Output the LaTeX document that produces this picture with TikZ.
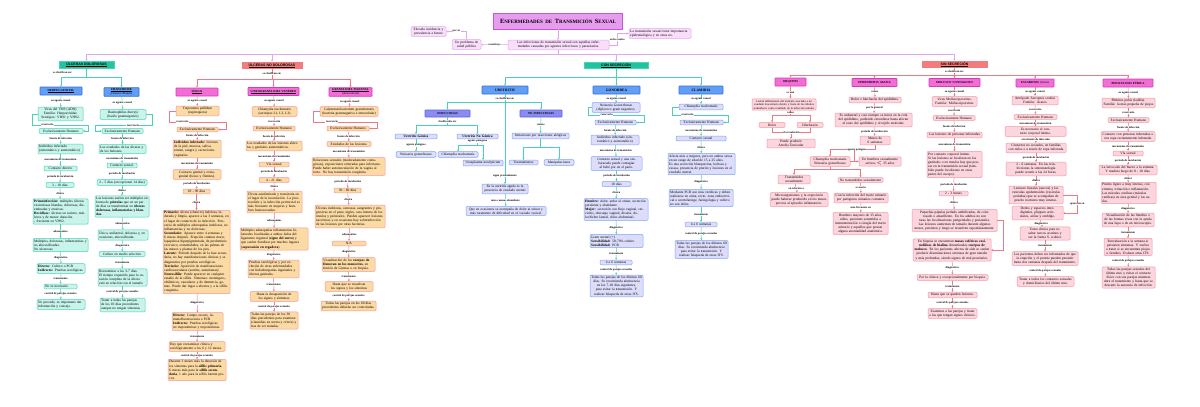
\documentclass[tikz,border=0pt]{standalone}
\usepackage{amsmath,amssymb}
\usepackage{fontspec}
\setmainfont{Liberation Serif}
\newfontfamily\catsans{Liberation Sans}
\usepackage{xcolor}
\usepackage{tikz}
\usetikzlibrary{positioning,arrows.meta,calc}
\definecolor{tealhead}{RGB}{32,196,160}
\definecolor{tealfill}{RGB}{200,244,235}
\definecolor{tealline}{RGB}{72,210,182}
\definecolor{bluehead}{RGB}{98,158,245}
\definecolor{bluedraw}{RGB}{52,112,225}
\definecolor{violethead}{RGB}{138,140,242}
\definecolor{violetdraw}{RGB}{92,98,228}
\definecolor{lavfill}{RGB}{221,221,251}
\definecolor{lavdraw}{RGB}{122,166,244}
\definecolor{peachfill}{RGB}{252,218,164}
\definecolor{pinkfill}{RGB}{253,213,222}
\definecolor{pinkline}{RGB}{244,150,160}
\definecolor{redline}{RGB}{242,120,130}
\definecolor{salmonhead}{RGB}{243,125,125}
\definecolor{maghead}{RGB}{242,110,214}
\definecolor{magdraw}{RGB}{212,60,180}
\definecolor{titlefill}{RGB}{232,156,240}
\definecolor{titledraw}{RGB}{190,90,210}
\definecolor{topfill}{RGB}{249,222,249}
\definecolor{topdraw}{RGB}{226,165,240}
\newcommand{\boxfont}{\fontsize{3.5}{4.1}\selectfont}
\newcommand{\tinyfont}{\fontsize{2.9}{3.5}\selectfont}
\newcommand{\lblfont}{\fontsize{2.8}{3.2}\selectfont\bfseries}
\newcommand{\headfont}{\fontsize{3}{3.6}\selectfont\bfseries}
\newcommand{\bigheadfont}{\fontsize{3.6}{4.2}\selectfont\bfseries}
\newcommand{\catfont}{\catsans\fontsize{3.5}{4.2}\selectfont\bfseries}
\newcommand{\smc}[2]{{\fontsize{6.4}{7}\selectfont #1}{\fontsize{5}{6}\selectfont #2}}
\tikzset{
  box/.style   = {draw, rounded corners=1pt, align=center, inner sep=1.2pt, line width=0.5pt, font=\boxfont},
  bw/.style    = {/utils/exec={\pgfmathsetmacro\bwval{#1-2.4}}, text width=\bwval pt},
  tbox/.style  = {box, fill=tealfill, draw=tealline},
  bbox/.style  = {box, fill=lavfill, draw=lavdraw},
  pbox/.style  = {box, fill=peachfill, draw=pinkline},
  rbox/.style  = {box, fill=pinkfill, draw=pinkline},
  mbox/.style  = {box, fill=topfill, draw=topdraw},
  titlebox/.style = {draw=titledraw, fill=titlefill, line width=0.8pt, minimum width=129pt, minimum height=16pt, inner sep=1pt},
  cat/.style   = {draw, align=center, inner sep=1pt, line width=0.4pt, font=\catfont, minimum height=6.5pt},
  head/.style  = {draw, rounded corners=0.6pt, align=center, inner sep=1.2pt, line width=0.8pt, font=\headfont, minimum height=8pt},
  bhead/.style = {head, fill=bluehead, draw=bluedraw},
  vhead/.style = {head, fill=violethead, draw=violetdraw, minimum height=7pt},
  mhead/.style = {head, fill=maghead, draw=magdraw},
  lbl/.style   = {fill=white, inner sep=0.4pt, font=\lblfont},
  tline/.style = {line width=0.5pt, draw=tealline},
  tflow/.style = {tline, -{Stealth[length=2pt, width=2pt]}},
  pline/.style = {line width=0.5pt, draw=redline},
  pflow/.style = {pline, -{Stealth[length=2pt, width=2pt]}},
  mline/.style = {line width=0.5pt, draw=topdraw},
  mflow/.style = {mline, -{Stealth[length=2pt, width=2pt]}},
}
\begin{document}
\begin{tikzpicture}[x=1pt, y=-1pt]
  \path[use as bounding box, fill=white] (0,0) rectangle (1200,407);

  % cabecera
  \node[titlebox] (titulo) at (558,21) {\bfseries\smc{E}{NFERMEDADES} \smc{}{DE} \smc{T}{RANSMICIÓN} \smc{S}{EXUAL}};
  \node[mbox, bw=35] (elevada) at (428.5,31.5) {Elevada incidencia y prevalencia a futuro};
  \node[mbox, bw=29] (problema) at (466.5,44.5) {Un problema de salud pública};
  \node[mbox, bw=101] (its) at (558.5,45) {Las infecciones de transmisión sexual son aquellas enfermedades causadas por agentes infecciosos y parasitarios.};
  \node[mbox, bw=62, align=left] (importancia) at (660,33.5) {La transmisión sexual tiene importancia epidemiológica y en otras no.};
  \draw[mflow] (titulo) -- (titulo |- its.north);
  \draw[mflow] (its) -- node[lbl]{constituye} (problema);
  \draw[mflow] (problema.north) |- node[lbl, pos=.75]{por su} (elevada.east);
  \draw[mflow] (its.east) -- ++(8,0) |- node[lbl, pos=.25]{en las cuales} (importancia.west);

  \node[cat, fill=tealhead, draw=tealline, minimum width=55pt] (ud) at (86.5,64.5) {\underline{ÚLCERAS DOLOROSAS}};
  \node[cat, fill=salmonhead, draw=redline, minimum width=60pt] (und) at (272,65) {\underline{ÚLCERAS NO DOLOROSAS}};
  \node[cat, fill=tealhead, draw=tealline, minimum width=64pt] (cs) at (616,65) {\underline{CON SECRECIÓN}};
  \node[cat, fill=salmonhead, draw=redline, minimum width=65pt] (ss) at (954.5,64) {\underline{SIN SECRECIÓN}};
  \draw[mline] (its.south) -- ++(0,4) coordinate (reparto);
  \draw[mline] (ud |- reparto) -- (ss |- reparto);
  \foreach \c in {ud,und,cs,ss}
    \draw[mflow] (\c |- reparto) -- (\c);

  % ulceras dolorosas
  \node[bhead, bw=42] (hg) at (61,91) {\underline{HERPES GENITAL}};
  \node[bhead, bw=35] (ch) at (121.5,92) {\underline{CHANCROIDE}\\{\mdseries(Chancro Blando)}};
  \draw[tline] (ud.south) -- node[lbl, left=14pt]{se clasifican en:} ++(0,9) coordinate (ud-r);
  \draw[tline] (hg |- ud-r) -- (ch |- ud-r);
  \draw[tflow] (hg |- ud-r) -- (hg);
  \draw[tflow] (ch |- ud-r) -- (ch);

  \node[tbox, bw=45] (hg-agente) at (60.5,114) {Virus del VHS (ADN)\\Familia: Herpesviridae\\Serotipos: VHS1 y VHS2.};
  \node[tbox, bw=44] (hg-reserv) at (61,131) {Exclusivamente Humano};
  \node[tbox, bw=45, align=left] (hg-fuente) at (60.5,149) {Individuo infectado\\(sintomático y asintomático)};
  \node[tbox, bw=33] (hg-mec) at (60.5,168.5) {Contacto directo};
  \node[tbox, bw=28] (hg-incub) at (60,185) {3 - 10 días};
  \node[tbox, bw=55, align=left] (hg-clin) at (60.5,211.5) {\textbf{Primoinfección:} múltiples úlceras vesiculosas blandas, dolorosas, diseminadas y erosivas.\\\textbf{Recidivas:} úlceras en racimo, más leves y de menor duración.\\- frecuente en VHS2.};
  \node[tbox, bw=55, align=left] (hg-adeno) at (60.5,245) {Múltiples, dolorosas, inflamatorias y no abscesificadas.\\No ulcerosas};
  \node[tbox, bw=48, align=left] (hg-diag) at (61,268.5) {\textbf{Directo:} Cultivo o PCR\\\textbf{Indirecto:} Pruebas serológicas};
  \node[tbox, bw=33, align=left] (hg-trat) at (60.5,286.5) {No es necesario};
  \node[tbox, bw=48, align=left] (hg-control) at (61,304.5) {No procede, es importante dar información y consejo.};
  \draw[tflow] (hg) -- node[lbl]{su agente causal} (hg-agente);
  \draw[tflow] (hg-agente.west) -- ++(-6,0) |- node[lbl, pos=.64]{reservorio} ++(56,11) |- (hg-reserv.east);
  \draw[tflow] (hg-reserv) -- node[lbl]{fuente de infección} (hg-fuente);
  \draw[tflow] (hg-fuente) -- node[lbl]{mecanismo de transmisión} (hg-mec);
  \draw[tflow] (hg-mec) -- node[lbl]{periodo de incubación} (hg-incub);
  \draw[tflow] (hg-incub) -- node[lbl]{clínica} (hg-clin);
  \draw[tflow] (hg-clin) -- node[lbl]{adenopatías} (hg-adeno);
  \draw[tflow] (hg-adeno) -- node[lbl]{diagnóstico} (hg-diag);
  \draw[tflow] (hg-diag) -- node[lbl]{tratamiento} (hg-trat);
  \draw[tflow] (hg-trat) -- node[lbl]{control de parejas sexuales} (hg-control);

  \node[tbox, bw=46] (ch-agente) at (123,114.5) {Haemophilus ducreyi\\(bacilo gramnegativo)};
  \node[tbox, bw=41] (ch-reserv) at (122.5,131) {Exclusivamente Humano};
  \node[tbox, bw=47, align=left] (ch-fuente) at (122.5,149) {Los exudados de las úlceras y de los bubones.};
  \node[tbox, bw=30] (ch-mec) at (122,165.5) {Contacto sexual.};
  \node[tbox, bw=50] (ch-incub) at (122,182.5) {2 - 5 días (excepcional 14 días)};
  \node[tbox, bw=54, align=left] (ch-clin) at (122,206.5) {Las lesiones suelen ser múltiples en forma de \textbf{pústulas} que en un par de días se transforman en \textbf{úlceras dolorosas, inflamatorias y blandas.}};
  \node[tbox, bw=50, align=left] (ch-adeno) at (123,235) {Única, unilateral, dolorosa y, en ocasiones, abscesificada.};
  \node[tbox, bw=46] (ch-diag) at (122,254) {Cultivo en medio selectivo};
  \node[tbox, bw=49, align=left] (ch-trat) at (122.5,277.5) {Reexaminar a los 3-7 días.\\El tiempo requerido para la curación completa de la úlcera está en relación con el tamaño};
  \node[tbox, bw=45, align=left] (ch-control) at (122.5,305) {Tratar a todas las parejas de los 10 días precedentes aunque no tengan síntomas};
  \draw[tflow] (ch) -- node[lbl]{su agente causal} (ch-agente);
  \draw[tflow] (ch-agente.east) -- ++(6,0) |- node[lbl, pos=.67]{reservorio} ++(-57,11) |- (ch-reserv.west);
  \draw[tflow] (ch-reserv) -- node[lbl]{fuente de infección} (ch-fuente);
  \draw[tflow] (ch-fuente) -- node[lbl]{mecanismo de transmisión} (ch-mec);
  \draw[tflow] (ch-mec) -- node[lbl]{periodo de incubación} (ch-incub);
  \draw[tflow] (ch-incub) -- node[lbl]{clínica} (ch-clin);
  \draw[tflow] (ch-clin) -- node[lbl]{adenopatías} (ch-adeno);
  \draw[tflow] (ch-adeno) -- node[lbl]{diagnóstico} (ch-diag);
  \draw[tflow] (ch-diag) -- node[lbl]{tratamiento} (ch-trat);
  \draw[tflow] (ch-trat) -- node[lbl]{control de parejas sexuales} (ch-control);

  % ulceras no dolorosas
  \node[mhead, bw=42] (sif) at (197,92) {\underline{SÍFILIS}};
  \node[mhead, bw=51] (lgv) at (273.5,91.5) {\underline{LINFOGRANULOMA VENÉREO}};
  \node[mhead, bw=43] (gi) at (350.5,92) {\underline{GRANULOMA INGUINAL}\\{\mdseries(donovanosis)}};
  \draw[pline] (und.south) -- node[lbl]{se clasifican en:} ++(0,11) coordinate (und-r);
  \draw[pline] (sif |- und-r) -- (gi |- und-r);
  \foreach \c in {sif,lgv,gi}
    \draw[pflow] (\c |- und-r) -- (\c);

  \node[pbox, bw=43] (sif-agente) at (197.5,111) {Treponema pallidum\\(espiroqueta)};
  \node[pbox, bw=41] (sif-reserv) at (197.5,129.5) {Exclusivamente Humano};
  \node[pbox, bw=48, align=left] (sif-fuente) at (197,149) {\textbf{Individuo infectado:} lesiones de la piel, mucosa, saliva, semen, sangre y secreciones vaginales.};
  \node[pbox, bw=48] (sif-mec) at (197,174.5) {Contacto genital y extragenital (besos y fómites).};
  \node[pbox, bw=27] (sif-incub) at (196.5,191.5) {10 - 90 días};
  \node[pbox, bw=67, align=left] (sif-clin) at (196.5,252) {\textbf{Primario:} úlcera (chancro) indolora, indurada y limpia, aparece a las 3 semanas, en el lugar de contacto de la infección. Presencia de múltiples adenopatías indoloras, no inflamatorias y no dolorosas.\\\textbf{Secundario:} Aparece entre 4 semanas y 6 meses después. Erupción cutánea maculopapulosa hiperpigmentada, de predominio en tronco, extremidades, en las palmas de las manos y plantas de los pies.\\\textbf{Latente:} Periodo después de la fase secundaria, no hay manifestaciones clínicas y se diagnostica por pruebas serológicas.\\\textbf{Terciario:} Aparición de manifestaciones cardiovasculares (aortitis, aneurismas).\\\textbf{Neurosífilis:} Puede aparecer en cualquier estadio de la sífilis. Síntomas: meníngeos, oftálmicos, vasculares y de demencia, gomas. Puede dar lugar a abortos y a la sífilis congénita.};
  \node[pbox, bw=51, align=left] (sif-diag) at (197.5,321.5) {\textbf{Directo:} Campo oscuro, inmunofluorescencia o PCR\\\textbf{Indirecto:} Pruebas serológicas no treponémicas y treponémicas.};
  \node[pbox, bw=56, align=left] (sif-trat) at (197,346.5) {Hay que reexaminar clínica y serológicamente a los 6 y 12 meses.};
  \node[pbox, bw=58, align=left] (sif-control) at (197,370) {Durante 3 meses más la duración de los síntomas para la \textbf{sífilis primaria}, 6 meses más para la \textbf{sífilis secundaria}, 1 año para la sífilis latente precoz.};
  \draw[pflow] (sif) -- node[lbl]{su agente causal} (sif-agente);
  \draw[pflow] (sif-agente.west) -- ++(-7,0) |- node[lbl, pos=.62]{reservorio} ++(57,11) |- (sif-reserv.east);
  \draw[pflow] (sif-reserv) -- node[lbl]{fuente de infección} (sif-fuente);
  \draw[pflow] (sif-fuente) -- node[lbl]{mecanismo de transmisión} (sif-mec);
  \draw[pflow] (sif-mec) -- node[lbl]{periodo de incubación} (sif-incub);
  \draw[pflow] (sif-incub) -- node[lbl]{clínica} (sif-clin);
  \draw[pflow] (sif-clin) -- node[lbl]{diagnóstico} (sif-diag);
  \draw[pflow] (sif-diag) -- node[lbl]{tratamiento} (sif-trat);
  \draw[pflow] (sif-trat) -- node[lbl]{control de parejas sexuales} (sif-control);

  \node[pbox, bw=45] (lgv-agente) at (274.5,111.5) {Chlamydia trachomatis\\(serotipos L1, L2, L3)};
  \node[pbox, bw=42] (lgv-reserv) at (274,128.5) {Exclusivamente Humano};
  \node[pbox, bw=56, align=left] (lgv-fuente) at (274,146) {Los exudados de las lesiones abiertas y genitales asintomáticos.};
  \node[pbox, bw=30] (lgv-mec) at (274,164.5) {Vía sexual};
  \node[pbox, bw=30] (lgv-incub) at (274,180) {4 - 21 días};
  \node[pbox, bw=55, align=left] (lgv-clin) at (274.5,202) {Úlcera autolimitada y transitoria en el lugar de la inoculación. La proctocolitis y la infección perirrectal es más frecuente en mujeres y hombres homosexuales.};
  \node[pbox, bw=68, align=left] (lgv-adeno) at (274,239) {Múltiples adenopatías inflamatorias bilaterales localizadas a ambos lados del ligamento inguinal (\textbf{signo del surco}) y que suelen fistulizar por muchos lugares (\textbf{supuración en regadera}).};
  \node[pbox, bw=51, align=left] (lgv-diag) at (273.5,269) {Pruebas serológicas y por exclusión de otras enfermedades con linfadenopatías inguinales y úlceras genitales.};
  \node[pbox, bw=48] (lgv-trat) at (274,296.5) {Hasta la desaparición de los signos y síntomas};
  \node[pbox, bw=48, align=left] (lgv-control) at (274,320.5) {Todas las parejas de los 30 días precedentes para examinar (clamidias en uretra y cérvix) y tras de ser tratadas.};
  \draw[pflow] (lgv) -- node[lbl]{su agente causal} (lgv-agente);
  \draw[pflow] (lgv-agente) -- node[lbl]{reservorio} (lgv-reserv);
  \draw[pflow] (lgv-reserv) -- node[lbl]{fuente de infección} (lgv-fuente);
  \draw[pflow] (lgv-fuente) -- node[lbl]{mecanismo de transmisión} (lgv-mec);
  \draw[pflow] (lgv-mec) -- node[lbl]{periodo de incubación} (lgv-incub);
  \draw[pflow] (lgv-incub) -- node[lbl]{clínica} (lgv-clin);
  \draw[pflow] (lgv-clin) -- node[lbl]{adenopatías} (lgv-adeno);
  \draw[pflow] (lgv-adeno) -- node[lbl]{diagnóstico} (lgv-diag);
  \draw[pflow] (lgv-diag) -- node[lbl]{tratamiento} (lgv-trat);
  \draw[pflow] (lgv-trat) -- node[lbl]{control de parejas sexuales} (lgv-control);

  \node[pbox, bw=58] (gi-agente) at (349,111.5) {Calymmatobacterium granulomatis\\(bacteria gramnegativa e intracelular)};
  \node[pbox, bw=42] (gi-reserv) at (348,128.5) {Exclusivamente Humano};
  \node[pbox, bw=44] (gi-fuente) at (349,144) {Exudados de las lesiones.};
  \node[pbox, bw=73, align=left] (gi-mec) at (348.5,166.5) {Relaciones sexuales (moderadamente contagiosas), exposiciones reiteradas para infectarse. Puede haber autoinoculación de la vagina al recto. No hay transmisión congénita.};
  \node[pbox, bw=27] (gi-incub) at (347.5,190.5) {30 - 60 días};
  \node[pbox, bw=70, align=left] (gi-clin) at (350,216.5) {Úlceras indoloras, carnosas, sangrantes y progresivas en el pene, ingles, cara interna de los muslos y perineales. Pueden aparecer lesiones necróticas y en ocasiones hay sobreinfección de las lesiones por otras bacterias.};
  \node[pbox, bw=34] (gi-adeno) at (349,243.5) {N/A};
  \node[pbox, bw=53, align=left] (gi-diag) at (348.5,264.5) {Visualización de los \textbf{cuerpos de Donovan en los monocitos}, en tinción de Giemsa o en biopsia.};
  \node[pbox, bw=48] (gi-trat) at (349,286.5) {Hasta que se resuelvan los signos y los síntomas};
  \node[pbox, bw=55] (gi-control) at (348.5,306) {Todas las parejas en los 60 días precedentes deberán ser controladas.};
  \draw[pflow] (gi) -- node[lbl]{su agente causal} (gi-agente);
  \draw[pflow] (gi-agente.west) -- ++(-7,0) |- node[lbl, pos=.65]{reservorio} ++(64,10.5) |- (gi-reserv.east);
  \draw[pflow] (gi-reserv) -- node[lbl]{fuente de infección} (gi-fuente);
  \draw[pflow] (gi-fuente) -- node[lbl]{mecanismo de transmisión} (gi-mec);
  \draw[pflow] (gi-mec) -- node[lbl]{periodo de incubación} (gi-incub);
  \draw[pflow] (gi-incub) -- node[lbl]{clínica} (gi-clin);
  \draw[pflow] (gi-clin) -- node[lbl]{adenopatías} (gi-adeno);
  \draw[pflow] (gi-adeno) -- node[lbl]{diagnóstico} (gi-diag);
  \draw[pflow] (gi-diag) -- node[lbl]{tratamiento} (gi-trat);
  \draw[pflow] (gi-trat) -- node[lbl]{control de parejas sexuales} (gi-control);

  % con secrecion
  \node[bhead, bw=46, font=\bigheadfont] (ure) at (505,90) {URETRITIS};
  \node[bhead, bw=47, font=\bigheadfont] (gon) at (616.5,90) {GONORREA};
  \node[bhead, bw=44, font=\bigheadfont] (cla) at (701,90) {CLAMIDIA};
  \draw[tline] (cs.south) -- ++(0,9) coordinate (cs-r);
  \draw[tline] (ure |- cs-r) -- (cla |- cs-r);
  \foreach \c in {ure,gon,cla}
    \draw[tflow] (\c |- cs-r) -- (\c);

  \node[vhead, bw=45] (ure-inf) at (447.5,113.5) {INFECCIOSAS};
  \node[vhead, bw=42] (ure-noinf) at (541,113.5) {NO INFECCIOSAS};
  \node[bbox, bw=42] (ure-gon) at (416,136.5) {\textbf{Uretritis Gónica}};
  \node[bbox, bw=41] (ure-nogon) at (477.5,136.5) {\textbf{Uretritis No Gónica}};
  \node[bbox, bw=40] (ure-neis) at (416,154.5) {Neisseria gonorrhoeae};
  \node[bbox, bw=40] (ure-chla) at (458,154.5) {Chlamydia trachomatis};
  \node[bbox, bw=40] (ure-urea) at (483,163) {Ureaplasma urealyticum};
  \node[bbox, bw=57] (ure-irrit) at (540.5,136) {Irritaciones por reacciones alérgicas};
  \node[bbox, bw=29] (ure-trauma) at (523.5,162.5) {Traumatismos};
  \node[bbox, bw=30] (ure-manip) at (559,162.5) {Manipulaciones};
  \node[bbox, bw=46] (ure-signo) at (505,189) {En la uretritis aguda es la presencia de exudado uretral};
  \node[bbox, bw=80] (ure-dolor) at (506,211) {Que en ocasiones se acompaña de dolor al orinar y más raramente de dificultad en el vaciado vesical.};
  \draw[tline] (ure.south) -- node[lbl]{se clasifican en:} ++(0,8) coordinate (ure-r);
  \draw[tline] (ure-inf |- ure-r) -- (ure-noinf |- ure-r);
  \draw[tflow] (ure-inf |- ure-r) -- (ure-inf);
  \draw[tflow] (ure-noinf |- ure-r) -- (ure-noinf);
  \draw[tflow] (ure-r) -- node[lbl, pos=.9]{signo predominante} (ure-signo);
  \draw[tflow] (ure-signo) -- node[lbl]{más o menos abundante} (ure-dolor);
  \draw[tline] (ure-inf.south) -- node[lbl]{clasificadas en:} ++(0,8) coordinate (inf-r);
  \draw[tline] (ure-gon |- inf-r) -- (ure-nogon |- inf-r);
  \draw[tflow] (ure-gon |- inf-r) -- (ure-gon);
  \draw[tflow] (ure-nogon |- inf-r) -- (ure-nogon);
  \draw[tflow] (ure-gon) -- node[lbl]{agente patógeno} (ure-neis);
  \draw[tline] (ure-nogon.south) -- node[lbl, pos=.3]{agente patógeno} ++(0,6) coordinate (nogon-r);
  \draw[tline] (ure-chla |- nogon-r) -- (ure-urea |- nogon-r);
  \draw[tflow] (ure-chla |- nogon-r) -- (ure-chla);
  \draw[tflow] (ure-urea |- nogon-r) -- (ure-urea);
  \draw[tflow] (ure-noinf) -- node[lbl]{causas} (ure-irrit);
  \draw[tline] (ure-irrit.south) -- ++(0,8) coordinate (irrit-r);
  \draw[tline] (ure-trauma |- irrit-r) -- (ure-manip |- irrit-r);
  \draw[tflow] (ure-trauma |- irrit-r) -- (ure-trauma);
  \draw[tflow] (ure-manip |- irrit-r) -- (ure-manip);

  \node[bbox, bw=48] (gon-agente) at (616,107.5) {Neisseria Gonorrhoeae (diplococo gram negativo).};
  \node[bbox, bw=41] (gon-reserv) at (615.5,122.5) {Exclusivamente Humano};
  \node[bbox, bw=48] (gon-fuente) at (615,140) {Individuo infectado (sintomático y asintomático)};
  \node[bbox, bw=51] (gon-mec) at (616.5,163.5) {Contacto sexual y una embarazada puede contagiar al bebé por en el parto.};
  \node[bbox, bw=29] (gon-incub) at (616.5,184) {10 días};
  \node[bbox, bw=64, align=left] (gon-clin) at (616,209.5) {\textbf{Hombre:} dolor, ardor al orinar, secreción purulenta y abundante.\\\textbf{Mujer:} secreción con flujo vaginal, cervicitis, descargo vaginal, disuria, dolor/fiebre lateral, dolor abdominal.};
  \node[bbox, bw=53, align=left] (gon-diag) at (616.5,241) {Gram uretral (+)\\\textbf{Sensibilidad:} 50-70\% cultivo\\\textbf{Sensibilidad:} PCR};
  \node[bbox, bw=32] (gon-trat) at (616,262.5) {4 a 6 semanas};
  \node[bbox, bw=53] (gon-control) at (616.5,286) {Todas las parejas de los últimos 60 días. Se recomienda abstinencia en los 7-10 días siguientes, para evitar la transmisión. Y realizar búsqueda de otras ITS.};
  \draw[tflow] (gon) -- node[lbl]{su agente causal} (gon-agente);
  \draw[tflow] (gon-agente.west) -- ++(-4,0) |- node[lbl, pos=.67]{reservorio} ++(56,7.5) |- (gon-reserv.east);
  \draw[tflow] (gon-reserv) -- node[lbl]{fuente de infección} (gon-fuente);
  \draw[tflow] (gon-fuente) -- node[lbl]{mecanismo de transmisión} (gon-mec);
  \draw[tflow] (gon-mec) -- node[lbl]{periodo de incubación} (gon-incub);
  \draw[tflow] (gon-incub) -- node[lbl]{clínica} (gon-clin);
  \draw[tflow] (gon-clin) -- node[lbl]{diagnóstico} (gon-diag);
  \draw[tflow] (gon-diag) -- node[lbl]{tratamiento} (gon-trat);
  \draw[tflow] (gon-trat) -- node[lbl]{control de parejas sexuales} (gon-control);

  \node[bbox, bw=44] (cla-agente) at (701,107) {Chlamydia trachomatis};
  \node[bbox, bw=43] (cla-reserv) at (701.5,122.5) {Exclusivamente Humano};
  \node[bbox, bw=50] (cla-mec) at (701,138.5) {Contacto sexual};
  \node[bbox, bw=67, align=left] (cla-clin) at (701.5,164) {Afecta más a mujeres, pero en ambos sexos en un rango de edad de 15 a 25 años.\\Es una secreción blanquecina, lechosa y escasa, presencia de prurito y lesiones en el exudado uretral.};
  \node[bbox, bw=64, align=left] (cla-diag) at (701,198) {Mediante PCR son más verídicas y deben realizarse en orina, recto, zona endocervical o uretrofaringe, faringología y cultivo no son útiles.};
  \node[bbox, bw=32] (cla-trat) at (701,224.5) {4 a 6 semanas};
  \node[bbox, bw=53] (cla-control) at (701.5,249.5) {Todas las parejas de los últimos 60 días. Se recomienda abstinencia para evitar la transmisión. Y realizar búsqueda de otras ITS.};
  \draw[tflow] (cla) -- node[lbl]{su agente causal} (cla-agente);
  \draw[tflow] (cla-agente.west) -- ++(-7,0) |- node[lbl, pos=.64]{reservorio} ++(56,8) |- (cla-reserv.east);
  \draw[tflow] (cla-reserv) -- node[lbl]{mecanismo de transmisión} (cla-mec);
  \draw[tflow] (cla-mec) -- node[lbl]{clínica} (cla-clin);
  \draw[tflow] (cla-clin) -- node[lbl]{diagnóstico} (cla-diag);
  \draw[tflow] (cla-diag) -- node[lbl]{tratamiento} (cla-trat);
  \draw[tflow] (cla-trat) -- node[lbl]{control de parejas sexuales} (cla-control);

  % sin secrecion
  \node[mhead, bw=31] (orq) at (790.5,82) {ORQUITIS};
  \node[mhead, bw=45] (epi) at (874.5,82.5) {EPIDIDIMITIS AGUDA};
  \node[mhead, bw=51] (mol) at (954.5,82.5) {MOLUSCO CONTAGIOSO};
  \node[mhead, bw=38] (esc) at (1035,83) {ESCABIOSIS {\mdseries(Sarna)}};
  \node[mhead, bw=50] (ped) at (1128,83) {PEDICULOSIS PÚBICA};
  \draw[pline] (ss.south) -- node[lbl]{se clasifican en:} ++(0,8) coordinate (ss-r);
  \draw[pline] (orq |- ss-r) -- (ped |- ss-r);
  \foreach \c in {orq,epi,mol,esc,ped}
    \draw[pflow] (\c |- ss-r) -- (\c);

  \node[rbox, bw=64, font=\tinyfont] (orq-def) at (784,104.5) {Lesión inflamatoria del testículo asociada a un exudado leucocitario dentro y fuera de los túbulos seminíferos como resultado de la infección tubular.};
  \node[rbox, bw=26] (orq-dolor) at (772,125) {Dolor};
  \node[rbox, bw=26] (orq-hinch) at (810,125) {Hinchazón};
  \node[rbox, bw=48] (orq-atrofia) at (791,143.5) {Puede producir Atrofia Testicular};
  \draw[pflow] (orq.south) -- node[lbl]{es una} (orq.south |- orq-def.north);
  \draw[pline] (orq.south |- orq-def.south) -- node[lbl]{causa} ++(0,5) coordinate (orq-r);
  \draw[pline] (orq-dolor |- orq-r) -- (orq-hinch |- orq-r);
  \draw[pflow] (orq-dolor |- orq-r) -- (orq-dolor);
  \draw[pflow] (orq-hinch |- orq-r) -- (orq-hinch);
  \coordinate (orq-res) at ($(orq-dolor.south)!0.5!(orq-hinch.south)+(0,4.5)$);
  \draw[pline] (orq-dolor.south) |- (orq-res) -| (orq-hinch.south);
  \draw[pflow] (orq-res) -- node[lbl, pos=0]{a la resolución} (orq-atrofia);

  \node[rbox, bw=52] (epi-causa) at (875,100) {Dolor e hinchazón del epidídimo.};
  \node[rbox, bw=77] (epi-desc) at (873.5,120) {Es unilateral y casi siempre se inicia en la cola del epidídimo, pudiendo extenderse hasta afectar al resto del epidídimo y al tejido testicular.};
  \node[rbox, bw=30] (epi-incub) at (875,140.5) {Menos de 6 semanas};
  \node[rbox, bw=40] (epi-agente) at (830,161.5) {Chlamydia trachomatis\\Neisseria gonorrhoeae};
  \node[rbox, bw=42] (epi-hombres) at (880,161.5) {En hombres sexualmente activos $<$ 35 años};
  \node[rbox, bw=32] (epi-ts) at (794,179.5) {Transmitidos sexualmente};
  \node[rbox, bw=45] (epi-nts) at (860.5,180) {No transmitidos sexualmente};
  \node[rbox, bw=58] (epi-ts-desc) at (799,199.5) {Microorganismos y la exposición puede haberse producido en los meses previos al episodio inflamatorio.};
  \node[rbox, bw=54] (epi-nts-desc) at (861,198) {Con la infección del tracto urinario por patógenos urinarios comunes.};
  \node[rbox, bw=55] (epi-nts-mas) at (860.5,223.5) {Hombres mayores de 35 años, niños, pacientes sometidos a instrumentación o cirugía del tracto urinario y aquellos que posean alguna anormalidad anatómica.};
  \draw[pflow] (epi) -- node[lbl]{causa} (epi-causa);
  \draw[pflow] (epi-causa) -- node[lbl]{por lo general} (epi-desc);
  \draw[pflow] (epi-desc) -- node[lbl]{periodo de incubación} (epi-incub);
  \draw[pline] (epi-incub.south) -- ++(0,4.5) coordinate (epi-r);
  \draw[pflow] (epi-r) -| node[lbl, pos=.2]{agente patógeno} (epi-agente.north);
  \coordinate (epi-u) at ($(epi-agente.east)!0.5!(epi-hombres.west)$);
  \draw[pline] (epi-u |- epi-r) -- (epi-u);
  \draw[pflow] (epi-agente.east) -- (epi-hombres.west);
  \draw[pline] (epi-agente.south) -- ++(0,3) coordinate (epi-s);
  \draw[pline] (epi-ts |- epi-s) -- (epi-nts |- epi-s);
  \draw[pflow] (epi-ts |- epi-s) -- (epi-ts);
  \draw[pflow] (epi-nts |- epi-s) -- (epi-nts);
  \draw[pflow] (epi-ts) -- node[lbl]{en relación a} (epi-ts-desc);
  \draw[pflow] (epi-nts) -- node[lbl]{se asocia} (epi-nts-desc);
  \draw[pflow] (epi-nts-desc) -- node[lbl]{más frecuente en} (epi-nts-mas);

  \node[rbox, bw=45] (mol-agente) at (954.5,101.5) {Virus Molluscipoxvirus.\\Familia: Molluscipoxvirus};
  \node[rbox, bw=42] (mol-reserv) at (954,118) {Exclusivamente Humano};
  \node[rbox, bw=55] (mol-fuente) at (954.5,135) {Las lesiones de personas infectadas};
  \node[rbox, bw=55, align=left] (mol-mec) at (954.5,164.5) {Por contacto corporal íntimo.\\Si las lesiones se localizan en los genitales o en muslos hay que pensar en la transmisión sexual (también puede localizarse en otras partes del cuerpo).};
  \node[rbox, bw=29] (mol-incub) at (953.5,193.5) {2 - 3 meses};
  \node[rbox, bw=85] (mol-clin) at (954.5,220.5) {Pequeñas pápulas perlado umbilicadas, de color rosado o amarillento. En los adultos no son raras las localizaciones perigenitales y perianales.\\Las lesiones aumentan de tamaño durante algunos meses, persisten y luego se resuelven espontáneamente.};
  \node[rbox, bw=78] (mol-biopsia) at (952,250) {En biopsia se encuentran \textbf{masas esféricas eosinofílicas de hialina} denominadas \textbf{cuerpos de molusco}. En los pacientes afectos de sida se suelen producir diseminaciones extensas de gran tamaño y más profundas, siendo signos de mal pronóstico.};
  \node[rbox, bw=71] (mol-diag) at (952.5,277.5) {Por la clínica y excepcionalmente por biopsia.};
  \node[rbox, bw=49] (mol-trat) at (952.5,295) {Hasta que se queden lesiones.};
  \node[rbox, bw=49] (mol-control) at (952.5,313.5) {Examinar a las parejas y tratar a las que tengan signos clínicos.};
  \draw[pflow] (mol) -- node[lbl]{su agente causal} (mol-agente);
  \draw[pflow] (mol-agente) -- node[lbl]{reservorio} (mol-reserv);
  \draw[pflow] (mol-reserv) -- node[lbl]{fuente de infección} (mol-fuente);
  \draw[pflow] (mol-fuente) -- node[lbl]{mecanismo de transmisión} (mol-mec);
  \draw[pflow] (mol-mec) -- node[lbl]{periodo de incubación} (mol-incub);
  \draw[pflow] (mol-incub) -- node[lbl]{clínica} (mol-clin);
  \draw[pflow] (mol-clin.east) -- ++(6,0) |- (mol-biopsia.east);
  \draw[pflow] (mol-biopsia) -- node[lbl]{diagnóstico} (mol-diag);
  \draw[pflow] (mol-diag) -- node[lbl]{tratamiento} (mol-trat);
  \draw[pflow] (mol-trat) -- node[lbl]{control de parejas sexuales} (mol-control);

  \node[rbox, bw=46] (esc-agente) at (1035,100.5) {Artrópodo Sarcoptes scabiei\\Familia: Ácaros};
  \node[rbox, bw=43] (esc-reserv) at (1035.5,117) {Exclusivamente Humano};
  \node[rbox, bw=61] (esc-mec) at (1035.5,131.5) {Es necesario el contacto corporal íntimo.};
  \node[rbox, bw=60] (esc-fuente) at (1036,148) {Contactos no sexuales, en familias con niños o a través de ropa infectada};
  \node[rbox, bw=60] (esc-incub) at (1036,169) {2 - 6 semanas. En las reinfecciones la sintomatología puede ocurrir a las 24 horas.};
  \node[rbox, bw=54] (esc-clin) at (1036,195) {Lesiones lineales (surcos) y las vesículas epidermoides (vesículas perladas) que se acompañan de prurito nocturno muy intenso.};
  \node[rbox, bw=51] (esc-sitios) at (1037.5,213) {Dedos y espacios interdigitales, pliegues articulares, axilas y ombligo.};
  \node[rbox, bw=50] (esc-diag) at (1045,233.5) {Toma clínica para resaltar surcos acarinos y ver la forma S. scabiei.};
  \node[rbox, bw=66] (esc-trat) at (1045,258.5) {Los pacientes deben ser informados de que la erupción y el prurito pueden persistir hasta dos semanas después del tratamiento.};
  \node[rbox, bw=57] (esc-control) at (1045.5,281.5) {Tratar a todos los contactos sexuales y domiciliarios del último mes.};
  \draw[pflow] (esc) -- node[lbl]{su agente causal} (esc-agente);
  \draw[pflow] (esc-agente) -- node[lbl]{reservorio} (esc-reserv);
  \draw[pflow] (esc-reserv) -- node[lbl]{mecanismo de transmisión} (esc-mec);
  \draw[pflow] (esc-mec) -- node[lbl]{otra fuente de infección} (esc-fuente);
  \draw[pflow] (esc-fuente) -- node[lbl]{periodo de incubación} (esc-incub);
  \draw[pflow] (esc-incub) -- node[lbl]{clínica} (esc-clin);
  \draw[pflow] (esc-clin.east) -- ++(14,0) |- node[lbl, pos=.25]{aparecen en} (esc-sitios.east);
  \draw[pflow] (esc-sitios) -- node[lbl]{diagnóstico} (esc-diag);
  \draw[pflow] (esc-diag) -- node[lbl]{tratamiento} (esc-trat);
  \draw[pflow] (esc-trat) -- node[lbl]{control de parejas sexuales} (esc-control);

  \node[rbox, bw=53] (ped-agente) at (1128.5,103) {Phthirus pubis (ladilla).\\Familia: la más pequeña de piojos};
  \node[rbox, bw=41] (ped-reserv) at (1128.5,120) {Exclusivamente Humano};
  \node[rbox, bw=54] (ped-fuente) at (1128,136.5) {Contacto con personas infectadas o con ropa recientemente infestada.};
  \node[rbox, bw=30] (ped-mec) at (1128,153.5) {Vía sexual};
  \node[rbox, bw=58] (ped-incub) at (1128,170) {La larva sale del huevo a la semana.\\Y madura luego de 8 - 10 días.};
  \node[rbox, bw=55, align=left] (ped-clin) at (1128.5,193) {Prurito ligero a muy intenso, con eritema, irritación e inflamación. Las máculas cerúleas (máculas cerúleas) en área genital y las axilas.};
  \node[rbox, bw=52] (ped-diag) at (1128,220) {Visualización de las liendres o de las formas vivas con la ayuda de una lupa o de un microscopio.};
  \node[rbox, bw=48] (ped-trat) at (1128,247) {Reevaluación a la semana si persisten síntomas. Y vuelva a tratar si se encuentran piojos o liendres. Evaluar otras ITS.};
  \node[rbox, bw=53] (ped-control) at (1128.5,277.5) {Todas las parejas sexuales del último mes y evitar el contacto físico con sus parejas mientras dure el tratamiento y hasta que se descarte la ausencia de infección.};
  \draw[pflow] (ped) -- node[lbl]{su agente causal} (ped-agente);
  \draw[pflow] (ped-agente) -- node[lbl]{reservorio} (ped-reserv);
  \draw[pflow] (ped-reserv) -- node[lbl]{fuente de infección} (ped-fuente);
  \draw[pflow] (ped-fuente) -- node[lbl]{mecanismo de transmisión} (ped-mec);
  \draw[pflow] (ped-mec) -- node[lbl]{periodo de incubación} (ped-incub);
  \draw[pflow] (ped-incub) -- node[lbl]{clínica} (ped-clin);
  \draw[pflow] (ped-clin) -- node[lbl]{diagnóstico} (ped-diag);
  \draw[pflow] (ped-diag) -- node[lbl]{tratamiento} (ped-trat);
  \draw[pflow] (ped-trat) -- node[lbl]{control de parejas sexuales} (ped-control);
\end{tikzpicture}
\end{document}
